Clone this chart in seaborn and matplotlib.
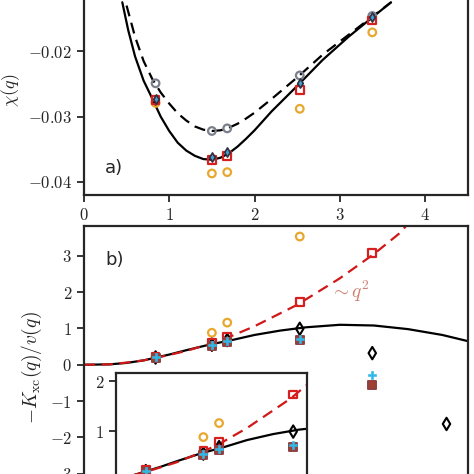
import matplotlib
matplotlib.use("Agg")
import matplotlib.pyplot as plt
import seaborn as sns

sns.set_style("ticks")
plt.rcParams['font.family'] = ['cmr10']
plt.rcParams['mathtext.fontset'] = 'cm'
plt.rcParams['axes.formatter.use_mathtext'] = True
plt.rcParams['axes.unicode_minus'] = True

q_pts = [0.84, 1.5, 1.68, 2.53, 3.38]
# panel a
chi_gray = [-0.0249, -0.0322, -0.0318, -0.0237, -0.0146]
chi_orange = [-0.0279, -0.0387, -0.0385, -0.0288, -0.0171]
chi_red = [-0.0275, -0.0366, -0.0360, -0.0259, -0.0153]
chi_other = [-0.0273, -0.0362, -0.0354, -0.0248, -0.0148]
qa_solid = [0.45, 0.52, 0.6, 0.7, 0.8, 0.9, 1.0, 1.1, 1.2, 1.3, 1.4, 1.5, 1.6, 1.7, 1.8,
            1.9, 2.0, 2.2, 2.5, 2.8, 3.1, 3.4, 3.6]
chi_solid = [-0.0125, -0.0168, -0.0208, -0.0245, -0.0272, -0.0300, -0.0322, -0.0340,
             -0.0352, -0.0360, -0.0365, -0.0366, -0.0363, -0.0356, -0.0346,
             -0.0334, -0.0321, -0.0292, -0.0253, -0.0213, -0.0178, -0.0146, -0.0125]
qa_dash = [0.5, 0.6, 0.7, 0.8, 0.9, 1.0, 1.1, 1.2, 1.3, 1.4, 1.5, 1.6, 1.7, 1.8, 1.9,
           2.0, 2.2, 2.5, 2.8, 3.1, 3.4, 3.6]
chi_dash = [-0.0130, -0.0178, -0.0215, -0.0242, -0.0263, -0.0280, -0.0295, -0.0306,
            -0.0315, -0.0320, -0.0322, -0.0321, -0.0317, -0.0311, -0.0303,
            -0.0294, -0.0273, -0.0240, -0.0205, -0.0175, -0.0145, -0.0125]
# panel b
qb_solid = [0, 0.3, 0.5, 0.7, 0.85, 1.0, 1.2, 1.5, 1.7, 2.0, 2.3, 2.6, 3.0, 3.4, 3.8, 4.2, 4.5]
k_solid = [0, 0.01, 0.05, 0.12, 0.2, 0.28, 0.4, 0.57, 0.66, 0.82, 0.94, 1.03, 1.1, 1.08,
           0.98, 0.82, 0.65]
qb_dash = [0, 0.3, 0.5, 0.7, 0.85, 1.0, 1.2, 1.5, 1.7, 2.0, 2.5, 3.0, 3.4, 3.7, 3.78]
k_dash = [0, 0.01, 0.06, 0.12, 0.19, 0.27, 0.38, 0.59, 0.76, 1.06, 1.65, 2.38, 3.05, 3.62, 3.83]
k_red = [0.22, 0.6, 0.78, 1.73, 3.08]
q_orange_b = [0.84, 1.5, 1.68, 2.53]
k_orange = [0.2, 0.88, 1.16, 3.53]
q_diam = [0.84, 1.5, 1.68, 2.53, 3.38, 4.25]
k_diam = [0.2, 0.55, 0.68, 0.99, 0.32, -1.63]
k_cyan = [0.2, 0.55, 0.65, 0.72, -0.27]
k_brown = [0.18, 0.52, 0.62, 0.68, -0.57]

fig = plt.figure(figsize=(4.74, 4.74), dpi=100)
axa = fig.add_axes([0.177, 0.5886, 0.81, 0.441])
axb = fig.add_axes([0.177, -0.076, 0.81, 0.6])
axi = fig.add_axes([0.245, -0.015, 0.403, 0.228])

def lines(ax, qs, ks, qd, kd, dcol):
    sns.lineplot(x=qs, y=ks, ax=ax, color='black', lw=1.6, sort=False)
    sns.lineplot(x=qd, y=kd, ax=ax, color=dcol, lw=1.6, ls=(0, (5, 3)), sort=False)

mk = dict(s=30, linewidths=1.6, zorder=5)
lines(axa, qa_solid, chi_solid, qa_dash, chi_dash, 'black')
sns.scatterplot(x=q_pts, y=chi_gray, ax=axa, marker='o', facecolor='none', edgecolor='#7a7f8c', **mk)
sns.scatterplot(x=q_pts, y=chi_orange, ax=axa, marker='o', facecolor='none', edgecolor='#e8a830', **mk)
sns.scatterplot(x=q_pts, y=chi_red, ax=axa, marker='s', facecolor='none', edgecolor='#d62020', **mk)
sns.scatterplot(x=q_pts, y=chi_other, ax=axa, marker='d', facecolor='#40a0d0', edgecolor='#303040', s=22, linewidths=1.2, zorder=6)
axa.set_xlim(0, 4.5)
axa.set_ylim(-0.042, -0.01)
axa.set_yticks([-0.04, -0.03, -0.02])
axa.set_xticks([0, 1, 2, 3, 4])
axa.set_ylabel(r'$\chi(q)$', fontsize=13)
axa.text(0.25, -0.0386, 'a)', fontsize=13, family='DejaVu Sans')

for ax in (axb, axi):
    lines(ax, qb_solid, k_solid, qb_dash, k_dash, '#d01818')
    sns.scatterplot(x=q_orange_b, y=k_orange, ax=ax, marker='o', facecolor='none', edgecolor='#e8a830', **mk)
    sns.scatterplot(x=q_diam, y=k_diam, ax=ax, marker='d', facecolor='none', edgecolor='black', s=40, linewidths=1.5, zorder=5)
    sns.scatterplot(x=q_pts, y=k_brown, ax=ax, marker='s', facecolor='#a04030', edgecolor='#904040', s=30, linewidths=1.4, zorder=6)
    sns.scatterplot(x=q_pts, y=k_cyan, ax=ax, marker='P', facecolor='#30b8e8', edgecolor='#30b8e8', s=30, zorder=7)
    sns.scatterplot(x=q_pts, y=k_red, ax=ax, marker='s', facecolor='none', edgecolor='#d62020', **mk)

axb.set_xlim(0, 4.5)
axb.set_ylim(-4.0, 3.83)
axb.set_yticks([-3, -2, -1, 0, 1, 2, 3])
axb.set_ylabel(r'$-K_{\rm xc}(q)/v(q)$', fontsize=14)
axb.text(0.25, 2.75, 'b)', fontsize=13, family='DejaVu Sans')
axb.text(2.88, 1.85, r'$\sim q^2$', fontsize=14, color='#d08070')

axi.set_xlim(0.5, 2.69)
axi.set_ylim(0.0, 2.16)
axi.set_yticks([1, 2])
axi.set_xticks([1, 2])

for ax in (axa, axb, axi):
    for s in ax.spines.values():
        s.set_linewidth(1.6)
    ax.tick_params(labelsize=12, width=1.3, length=5, direction='out')
axi.set_facecolor('white')

fig.savefig('out.png', dpi=100)
